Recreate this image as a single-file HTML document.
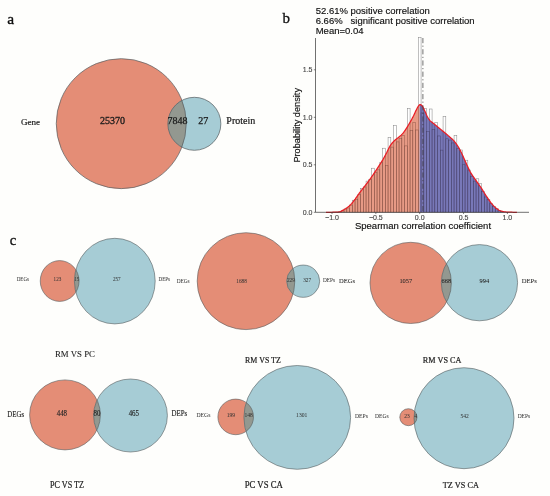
<!DOCTYPE html><html><head><meta charset="utf-8"><title>Figure</title><style>html,body{margin:0;padding:0;background:#fefefc;}svg{display:block}</style></head><body><svg width="550" height="496" viewBox="0 0 550 496">
<rect width="550" height="496" fill="#fefefc"/>
<text x="7.3" y="23.7" font-family='"Liberation Serif", serif' font-size="15.5" text-anchor="start" fill="#111" stroke="#111" stroke-width="0.3" >a</text>
<text x="282.4" y="23.2" font-family='"Liberation Serif", serif' font-size="15" text-anchor="start" fill="#111" stroke="#111" stroke-width="0.3" >b</text>
<text x="9.7" y="245.1" font-family='"Liberation Serif", serif' font-size="14.5" text-anchor="start" fill="#111" stroke="#111" stroke-width="0.32" >c</text>
<clipPath id="cp1"><ellipse cx="121.25" cy="123.65" rx="65" ry="65"/></clipPath><ellipse cx="121.25" cy="123.65" rx="65" ry="65" fill="#e48d76"/><ellipse cx="194.35" cy="123.8" rx="26.5" ry="26.5" fill="#a6ccd5"/><ellipse cx="194.35" cy="123.8" rx="26.5" ry="26.5" fill="#939890" clip-path="url(#cp1)"/><ellipse cx="121.25" cy="123.65" rx="65" ry="65" fill="none" stroke="#555c5e" stroke-width="0.7"/><ellipse cx="194.35" cy="123.8" rx="26.5" ry="26.5" fill="none" stroke="#555c5e" stroke-width="0.7"/>
<text x="30.5" y="125.1" font-family='"Liberation Serif", serif' font-size="9.1" text-anchor="middle" fill="#1a1a1a" stroke="#1a1a1a" stroke-width="0.18" >Gene</text>
<text x="112.5" y="124.3" font-family='"Liberation Serif", serif' font-size="10" text-anchor="middle" fill="#1a1a1a" stroke="#1a1a1a" stroke-width="0.3" >25370</text>
<text x="177.4" y="124.3" font-family='"Liberation Serif", serif' font-size="10" text-anchor="middle" fill="#1a1a1a" stroke="#1a1a1a" stroke-width="0.25" >7848</text>
<text x="203.3" y="124.3" font-family='"Liberation Serif", serif' font-size="10" text-anchor="middle" fill="#1a1a1a" stroke="#1a1a1a" stroke-width="0.25" >27</text>
<text x="240.8" y="124.3" font-family='"Liberation Serif", serif' font-size="10" text-anchor="middle" fill="#1a1a1a" stroke="#1a1a1a" stroke-width="0.22" >Protein</text>
<clipPath id="cp2"><ellipse cx="59.65" cy="281.0" rx="19.4" ry="20.4"/></clipPath><ellipse cx="59.65" cy="281.0" rx="19.4" ry="20.4" fill="#e48d76"/><ellipse cx="114.8" cy="281.1" rx="40.4" ry="42.8" fill="#a6ccd5"/><ellipse cx="114.8" cy="281.1" rx="40.4" ry="42.8" fill="#939890" clip-path="url(#cp2)"/><ellipse cx="59.65" cy="281.0" rx="19.4" ry="20.4" fill="none" stroke="#555c5e" stroke-width="0.6"/><ellipse cx="114.8" cy="281.1" rx="40.4" ry="42.8" fill="none" stroke="#555c5e" stroke-width="0.6"/>
<clipPath id="cp3"><ellipse cx="246" cy="281.15" rx="48.8" ry="48.45"/></clipPath><ellipse cx="246" cy="281.15" rx="48.8" ry="48.45" fill="#e48d76"/><ellipse cx="303.2" cy="281.2" rx="16.5" ry="16.15" fill="#a6ccd5"/><ellipse cx="303.2" cy="281.2" rx="16.5" ry="16.15" fill="#939890" clip-path="url(#cp3)"/><ellipse cx="246" cy="281.15" rx="48.8" ry="48.45" fill="none" stroke="#555c5e" stroke-width="0.6"/><ellipse cx="303.2" cy="281.2" rx="16.5" ry="16.15" fill="none" stroke="#555c5e" stroke-width="0.6"/>
<clipPath id="cp4"><ellipse cx="410.7" cy="282.9" rx="40.7" ry="40.6"/></clipPath><ellipse cx="410.7" cy="282.9" rx="40.7" ry="40.6" fill="#e48d76"/><ellipse cx="479.45" cy="282.7" rx="38.15" ry="38.1" fill="#a6ccd5"/><ellipse cx="479.45" cy="282.7" rx="38.15" ry="38.1" fill="#939890" clip-path="url(#cp4)"/><ellipse cx="410.7" cy="282.9" rx="40.7" ry="40.6" fill="none" stroke="#555c5e" stroke-width="0.6"/><ellipse cx="479.45" cy="282.7" rx="38.15" ry="38.1" fill="none" stroke="#555c5e" stroke-width="0.6"/>
<clipPath id="cp5"><ellipse cx="65" cy="414.9" rx="35.4" ry="35"/></clipPath><ellipse cx="65" cy="414.9" rx="35.4" ry="35" fill="#e48d76"/><ellipse cx="130.5" cy="415.5" rx="36.9" ry="36.5" fill="#a6ccd5"/><ellipse cx="130.5" cy="415.5" rx="36.9" ry="36.5" fill="#939890" clip-path="url(#cp5)"/><ellipse cx="65" cy="414.9" rx="35.4" ry="35" fill="none" stroke="#555c5e" stroke-width="0.6"/><ellipse cx="130.5" cy="415.5" rx="36.9" ry="36.5" fill="none" stroke="#555c5e" stroke-width="0.6"/>
<clipPath id="cp6"><ellipse cx="235.7" cy="416.9" rx="17.8" ry="17.8"/></clipPath><ellipse cx="235.7" cy="416.9" rx="17.8" ry="17.8" fill="#e48d76"/><ellipse cx="297.25" cy="417.4" rx="53.35" ry="51.9" fill="#a6ccd5"/><ellipse cx="297.25" cy="417.4" rx="53.35" ry="51.9" fill="#939890" clip-path="url(#cp6)"/><ellipse cx="235.7" cy="416.9" rx="17.8" ry="17.8" fill="none" stroke="#555c5e" stroke-width="0.6"/><ellipse cx="297.25" cy="417.4" rx="53.35" ry="51.9" fill="none" stroke="#555c5e" stroke-width="0.6"/>
<clipPath id="cp7"><ellipse cx="408.4" cy="417.2" rx="8.6" ry="8.5"/></clipPath><ellipse cx="408.4" cy="417.2" rx="8.6" ry="8.5" fill="#e48d76"/><ellipse cx="464" cy="418.2" rx="50" ry="50.5" fill="#a6ccd5"/><ellipse cx="464" cy="418.2" rx="50" ry="50.5" fill="#939890" clip-path="url(#cp7)"/><ellipse cx="408.4" cy="417.2" rx="8.6" ry="8.5" fill="none" stroke="#555c5e" stroke-width="0.6"/><ellipse cx="464" cy="418.2" rx="50" ry="50.5" fill="none" stroke="#555c5e" stroke-width="0.6"/>
<text transform="translate(22.85,281.3) scale(0.952,1)" font-family='"Liberation Serif", serif' font-size="5.35" text-anchor="middle" fill="#333" stroke="#333" stroke-width="0.02">DEGs</text>
<text transform="translate(57.4,281.4) scale(0.952,1)" font-family='"Liberation Serif", serif' font-size="5.35" text-anchor="middle" fill="#333" stroke="#333" stroke-width="0.02">123</text>
<text transform="translate(76.8,281.4) scale(0.952,1)" font-family='"Liberation Serif", serif' font-size="5.35" text-anchor="middle" fill="#333" stroke="#333" stroke-width="0.02">15</text>
<text transform="translate(116.7,281.4) scale(0.952,1)" font-family='"Liberation Serif", serif' font-size="5.35" text-anchor="middle" fill="#333" stroke="#333" stroke-width="0.02">257</text>
<text transform="translate(164.25,281.4) scale(0.952,1)" font-family='"Liberation Serif", serif' font-size="5.35" text-anchor="middle" fill="#333" stroke="#333" stroke-width="0.02">DEPs</text>
<text transform="translate(74.95,356.8) scale(1.0,1)" font-family='"Liberation Serif", serif' font-size="8.8" text-anchor="middle" fill="#222" stroke="#222" stroke-width="0.08">RM VS PC</text>
<text transform="translate(183.1,283) scale(0.952,1)" font-family='"Liberation Serif", serif' font-size="5.57" text-anchor="middle" fill="#333" stroke="#333" stroke-width="0.02">DEGs</text>
<text transform="translate(241.6,282.6) scale(0.952,1)" font-family='"Liberation Serif", serif' font-size="5.57" text-anchor="middle" fill="#333" stroke="#333" stroke-width="0.02">1688</text>
<text transform="translate(290.9,281.8) scale(0.952,1)" font-family='"Liberation Serif", serif' font-size="5.57" text-anchor="middle" fill="#333" stroke="#333" stroke-width="0.02">229</text>
<text transform="translate(307.1,281.8) scale(0.952,1)" font-family='"Liberation Serif", serif' font-size="5.57" text-anchor="middle" fill="#333" stroke="#333" stroke-width="0.02">327</text>
<text transform="translate(329,281.5) scale(0.952,1)" font-family='"Liberation Serif", serif' font-size="5.57" text-anchor="middle" fill="#333" stroke="#333" stroke-width="0.02">DEPs</text>
<text transform="translate(262.9,363.45) scale(0.86,1)" font-family='"Liberation Serif", serif' font-size="9.2" text-anchor="middle" fill="#1a1a1a" stroke="#1a1a1a" stroke-width="0.2">RM VS TZ</text>
<text transform="translate(347,283.4) scale(0.952,1)" font-family='"Liberation Serif", serif' font-size="6.83" text-anchor="middle" fill="#262626" stroke="#262626" stroke-width="0.05">DEGs</text>
<text transform="translate(405.8,283.4) scale(0.952,1)" font-family='"Liberation Serif", serif' font-size="6.72" text-anchor="middle" fill="#262626" stroke="#262626" stroke-width="0.05">1057</text>
<text transform="translate(446.3,283.2) scale(0.952,1)" font-family='"Liberation Serif", serif' font-size="6.72" text-anchor="middle" fill="#262626" stroke="#262626" stroke-width="0.05">668</text>
<text transform="translate(484.3,283.4) scale(0.952,1)" font-family='"Liberation Serif", serif' font-size="6.72" text-anchor="middle" fill="#262626" stroke="#262626" stroke-width="0.05">994</text>
<text transform="translate(529.25,283.4) scale(0.952,1)" font-family='"Liberation Serif", serif' font-size="6.93" text-anchor="middle" fill="#262626" stroke="#262626" stroke-width="0.05">DEPs</text>
<text transform="translate(442.1,363.1) scale(0.945,1)" font-family='"Liberation Serif", serif' font-size="8.7" text-anchor="middle" fill="#1a1a1a" stroke="#1a1a1a" stroke-width="0.2">RM VS CA</text>
<text transform="translate(15.7,416.5) scale(0.952,1)" font-family='"Liberation Serif", serif' font-size="7.25" text-anchor="middle" fill="#262626" stroke="#262626" stroke-width="0.14">DEGs</text>
<text transform="translate(61.9,416.1) scale(0.952,1)" font-family='"Liberation Serif", serif' font-size="7.25" text-anchor="middle" fill="#262626" stroke="#262626" stroke-width="0.14">448</text>
<text transform="translate(97,416.1) scale(0.952,1)" font-family='"Liberation Serif", serif' font-size="7.25" text-anchor="middle" fill="#262626" stroke="#262626" stroke-width="0.14">80</text>
<text transform="translate(133.8,416.0) scale(0.952,1)" font-family='"Liberation Serif", serif' font-size="7.25" text-anchor="middle" fill="#262626" stroke="#262626" stroke-width="0.14">465</text>
<text transform="translate(179.3,416.0) scale(0.952,1)" font-family='"Liberation Serif", serif' font-size="7.25" text-anchor="middle" fill="#262626" stroke="#262626" stroke-width="0.14">DEPs</text>
<text transform="translate(67,488.0) scale(0.853,1)" font-family='"Liberation Serif", serif' font-size="9.5" text-anchor="middle" fill="#1a1a1a" stroke="#1a1a1a" stroke-width="0.2">PC VS TZ</text>
<text transform="translate(203.4,416.8) scale(0.952,1)" font-family='"Liberation Serif", serif' font-size="5.99" text-anchor="middle" fill="#333" stroke="#333" stroke-width="0.02">DEGs</text>
<text transform="translate(230.9,417.2) scale(0.952,1)" font-family='"Liberation Serif", serif' font-size="5.88" text-anchor="middle" fill="#333" stroke="#333" stroke-width="0.02">199</text>
<text transform="translate(248.6,417.2) scale(0.952,1)" font-family='"Liberation Serif", serif' font-size="5.88" text-anchor="middle" fill="#333" stroke="#333" stroke-width="0.02">148</text>
<text transform="translate(301.7,417.4) scale(0.952,1)" font-family='"Liberation Serif", serif' font-size="5.88" text-anchor="middle" fill="#333" stroke="#333" stroke-width="0.02">1301</text>
<text transform="translate(361.45,417.8) scale(0.952,1)" font-family='"Liberation Serif", serif' font-size="5.99" text-anchor="middle" fill="#333" stroke="#333" stroke-width="0.02">DEPs</text>
<text transform="translate(263.75,487.9) scale(0.92,1)" font-family='"Liberation Serif", serif' font-size="9.5" text-anchor="middle" fill="#1a1a1a" stroke="#1a1a1a" stroke-width="0.2">PC VS CA</text>
<text transform="translate(381.85,417.8) scale(0.952,1)" font-family='"Liberation Serif", serif' font-size="5.88" text-anchor="middle" fill="#333" stroke="#333" stroke-width="0.02">DEGs</text>
<text transform="translate(407.1,417.9) scale(0.952,1)" font-family='"Liberation Serif", serif' font-size="5.78" text-anchor="middle" fill="#333" stroke="#333" stroke-width="0.02">23</text>
<text transform="translate(415.6,417.9) scale(0.952,1)" font-family='"Liberation Serif", serif' font-size="5.78" text-anchor="middle" fill="#333" stroke="#333" stroke-width="0.02">4</text>
<text transform="translate(464.7,417.9) scale(0.952,1)" font-family='"Liberation Serif", serif' font-size="5.78" text-anchor="middle" fill="#333" stroke="#333" stroke-width="0.02">542</text>
<text transform="translate(523.9,418.0) scale(0.952,1)" font-family='"Liberation Serif", serif' font-size="5.78" text-anchor="middle" fill="#333" stroke="#333" stroke-width="0.02">DEPs</text>
<text transform="translate(460.8,487.65) scale(0.9,1)" font-family='"Liberation Serif", serif' font-size="9.2" text-anchor="middle" fill="#1a1a1a" stroke="#1a1a1a" stroke-width="0.2">TZ VS CA</text>
<g fill="#ffffff" stroke="#808080" stroke-width="0.5"><rect x="333.07" y="212.21" width="2.75" height="0.09"/><rect x="335.82" y="212.11" width="2.75" height="0.19"/><rect x="338.57" y="211.76" width="2.75" height="0.54"/><rect x="341.32" y="210.83" width="2.75" height="1.47"/><rect x="344.07" y="208.84" width="2.75" height="3.46"/><rect x="346.82" y="208.01" width="2.75" height="4.29"/><rect x="349.57" y="205.15" width="2.75" height="7.15"/><rect x="352.32" y="200.20" width="2.75" height="12.10"/><rect x="355.07" y="199.31" width="2.75" height="12.99"/><rect x="357.82" y="194.33" width="2.75" height="17.97"/><rect x="360.57" y="188.40" width="2.75" height="23.90"/><rect x="363.32" y="186.95" width="2.75" height="25.35"/><rect x="366.07" y="181.10" width="2.75" height="31.20"/><rect x="368.82" y="179.39" width="2.75" height="32.91"/><rect x="371.57" y="168.20" width="2.75" height="44.10"/><rect x="374.32" y="172.30" width="2.75" height="40.00"/><rect x="377.07" y="169.84" width="2.75" height="42.46"/><rect x="379.82" y="162.72" width="2.75" height="49.58"/><rect x="382.57" y="148.20" width="2.75" height="64.10"/><rect x="385.32" y="165.69" width="2.75" height="46.61"/><rect x="388.07" y="137.50" width="2.75" height="74.80"/><rect x="390.82" y="147.12" width="2.75" height="65.18"/><rect x="393.57" y="125.50" width="2.75" height="86.80"/><rect x="396.32" y="141.91" width="2.75" height="70.39"/><rect x="399.07" y="138.66" width="2.75" height="73.64"/><rect x="401.82" y="135.68" width="2.75" height="76.62"/><rect x="404.57" y="145.90" width="2.75" height="66.40"/><rect x="407.32" y="108.40" width="2.75" height="103.90"/><rect x="410.07" y="130.50" width="2.75" height="81.80"/><rect x="412.82" y="122.40" width="2.75" height="89.90"/><rect x="415.57" y="130.00" width="2.75" height="82.30"/><rect x="418.32" y="37.30" width="2.75" height="175.00"/><rect x="421.07" y="112.91" width="2.75" height="99.39"/><rect x="423.82" y="108.50" width="2.75" height="103.80"/><rect x="426.57" y="131.43" width="2.75" height="80.87"/><rect x="429.32" y="109.00" width="2.75" height="103.30"/><rect x="432.07" y="129.35" width="2.75" height="82.95"/><rect x="434.82" y="122.70" width="2.75" height="89.60"/><rect x="437.57" y="135.96" width="2.75" height="76.34"/><rect x="440.32" y="150.13" width="2.75" height="62.17"/><rect x="443.07" y="116.70" width="2.75" height="95.60"/><rect x="445.82" y="138.81" width="2.75" height="73.49"/><rect x="448.57" y="140.06" width="2.75" height="72.24"/><rect x="451.32" y="142.93" width="2.75" height="69.37"/><rect x="454.07" y="135.50" width="2.75" height="76.80"/><rect x="456.82" y="148.67" width="2.75" height="63.63"/><rect x="459.57" y="150.00" width="2.75" height="62.30"/><rect x="462.32" y="164.76" width="2.75" height="47.54"/><rect x="465.07" y="160.20" width="2.75" height="52.10"/><rect x="467.82" y="170.04" width="2.75" height="42.26"/><rect x="470.57" y="176.36" width="2.75" height="35.94"/><rect x="473.32" y="181.11" width="2.75" height="31.19"/><rect x="476.07" y="178.80" width="2.75" height="33.50"/><rect x="478.82" y="183.30" width="2.75" height="29.00"/><rect x="481.57" y="191.71" width="2.75" height="20.59"/><rect x="484.32" y="196.94" width="2.75" height="15.36"/><rect x="487.07" y="199.39" width="2.75" height="12.91"/><rect x="489.82" y="203.38" width="2.75" height="8.92"/><rect x="492.57" y="206.29" width="2.75" height="6.01"/><rect x="495.32" y="208.60" width="2.75" height="3.70"/><rect x="498.07" y="210.46" width="2.75" height="1.84"/><rect x="500.82" y="211.56" width="2.75" height="0.74"/></g>
<path d="M326.00,212.30 L326.48,212.30 L326.96,212.30 L327.44,212.30 L327.91,212.29 L328.39,212.29 L328.87,212.29 L329.35,212.28 L329.83,212.28 L330.31,212.27 L330.78,212.27 L331.26,212.26 L331.74,212.25 L332.22,212.25 L332.70,212.24 L333.18,212.23 L333.66,212.22 L334.13,212.21 L334.61,212.20 L335.09,212.18 L335.57,212.16 L336.05,212.14 L336.53,212.12 L337.00,212.10 L337.48,212.07 L337.96,212.04 L338.44,212.01 L338.92,211.97 L339.40,211.88 L339.87,211.74 L340.35,211.58 L340.83,211.37 L341.31,211.15 L341.79,210.90 L342.27,210.64 L342.75,210.37 L343.22,210.10 L343.70,209.82 L344.18,209.56 L344.66,209.28 L345.14,208.99 L345.62,208.68 L346.09,208.36 L346.57,208.02 L347.05,207.67 L347.53,207.30 L348.01,206.92 L348.49,206.52 L348.97,206.11 L349.44,205.69 L349.92,205.26 L350.40,204.81 L350.88,204.34 L351.36,203.83 L351.84,203.31 L352.31,202.75 L352.79,202.18 L353.27,201.58 L353.75,200.97 L354.23,200.34 L354.71,199.70 L355.19,199.05 L355.66,198.38 L356.14,197.71 L356.62,197.03 L357.10,196.35 L357.58,195.67 L358.06,194.99 L358.53,194.31 L359.01,193.63 L359.49,192.97 L359.97,192.31 L360.45,191.66 L360.93,191.03 L361.41,190.40 L361.88,189.79 L362.36,189.17 L362.84,188.56 L363.32,187.96 L363.80,187.35 L364.28,186.74 L364.75,186.13 L365.23,185.52 L365.71,184.91 L366.19,184.30 L366.67,183.68 L367.15,183.05 L367.62,182.42 L368.10,181.79 L368.58,181.14 L369.06,180.49 L369.54,179.83 L370.02,179.16 L370.50,178.49 L370.97,177.81 L371.45,177.12 L371.93,176.43 L372.41,175.73 L372.89,175.03 L373.37,174.32 L373.84,173.61 L374.32,172.90 L374.80,172.18 L375.28,171.46 L375.76,170.74 L376.24,170.01 L376.72,169.29 L377.19,168.56 L377.67,167.84 L378.15,167.12 L378.63,166.39 L379.11,165.67 L379.59,164.94 L380.06,164.21 L380.54,163.47 L381.02,162.71 L381.50,161.95 L381.98,161.17 L382.46,160.37 L382.94,159.56 L383.41,158.72 L383.89,157.86 L384.37,156.98 L384.85,156.10 L385.33,155.20 L385.81,154.30 L386.28,153.40 L386.76,152.50 L387.24,151.55 L387.72,150.56 L388.20,149.57 L388.68,148.58 L389.15,147.63 L389.63,146.73 L390.11,145.90 L390.59,145.17 L391.07,144.50 L391.55,143.86 L392.03,143.26 L392.50,142.69 L392.98,142.15 L393.46,141.64 L393.94,141.15 L394.42,140.67 L394.90,140.23 L395.37,139.81 L395.85,139.42 L396.33,139.06 L396.81,138.70 L397.29,138.34 L397.77,137.98 L398.25,137.60 L398.72,137.19 L399.20,136.79 L399.68,136.38 L400.16,135.96 L400.64,135.54 L401.12,135.10 L401.59,134.64 L402.07,134.16 L402.55,133.65 L403.03,133.10 L403.51,132.50 L403.99,131.87 L404.47,131.20 L404.94,130.52 L405.42,129.82 L405.90,129.11 L406.38,128.38 L406.86,127.63 L407.34,126.87 L407.81,126.09 L408.29,125.29 L408.77,124.49 L409.25,123.67 L409.73,122.85 L410.21,122.01 L410.68,121.17 L411.16,120.32 L411.64,119.45 L412.12,118.56 L412.60,117.66 L413.08,116.73 L413.56,115.79 L414.03,114.81 L414.51,113.75 L414.99,112.67 L415.47,111.61 L415.95,110.60 L416.43,109.66 L416.90,108.72 L417.38,107.80 L417.86,106.96 L418.34,106.23 L418.82,105.63 L419.30,105.04 L419.70,104.65 L419.7,212.3 L326.00,212.3 Z" fill="#e07a5f" fill-opacity="0.76"/>
<path d="M419.70,104.65 L419.78,104.60 L420.25,104.51 L420.73,104.69 L421.21,105.03 L421.69,105.48 L422.17,105.97 L422.65,106.58 L423.12,107.41 L423.60,108.38 L424.08,109.41 L424.56,110.42 L425.04,111.42 L425.52,112.49 L426.00,113.60 L426.47,114.70 L426.95,115.74 L427.43,116.69 L427.91,117.54 L428.39,118.33 L428.87,119.08 L429.34,119.75 L429.82,120.33 L430.30,120.83 L430.78,121.29 L431.26,121.72 L431.74,122.12 L432.22,122.49 L432.69,122.86 L433.17,123.21 L433.65,123.57 L434.13,123.94 L434.61,124.32 L435.09,124.72 L435.56,125.12 L436.04,125.52 L436.52,125.92 L437.00,126.32 L437.48,126.72 L437.96,127.12 L438.43,127.52 L438.91,127.92 L439.39,128.31 L439.87,128.70 L440.35,129.10 L440.83,129.48 L441.31,129.87 L441.78,130.26 L442.26,130.65 L442.74,131.04 L443.22,131.43 L443.70,131.82 L444.18,132.21 L444.65,132.61 L445.13,133.01 L445.61,133.42 L446.09,133.82 L446.57,134.23 L447.05,134.63 L447.53,135.04 L448.00,135.46 L448.48,135.87 L448.96,136.29 L449.44,136.71 L449.92,137.12 L450.40,137.53 L450.87,137.93 L451.35,138.35 L451.83,138.77 L452.31,139.20 L452.79,139.66 L453.27,140.15 L453.75,140.66 L454.22,141.20 L454.70,141.78 L455.18,142.38 L455.66,143.01 L456.14,143.67 L456.62,144.35 L457.09,145.05 L457.57,145.78 L458.05,146.52 L458.53,147.30 L459.01,148.13 L459.49,149.00 L459.96,149.90 L460.44,150.84 L460.92,151.79 L461.40,152.76 L461.88,153.74 L462.36,154.74 L462.84,155.77 L463.31,156.84 L463.79,157.93 L464.27,159.04 L464.75,160.15 L465.23,161.25 L465.71,162.33 L466.18,163.38 L466.66,164.43 L467.14,165.49 L467.62,166.55 L468.10,167.60 L468.58,168.62 L469.06,169.61 L469.53,170.56 L470.01,171.46 L470.49,172.31 L470.97,173.11 L471.45,173.88 L471.93,174.62 L472.40,175.34 L472.88,176.05 L473.36,176.74 L473.84,177.42 L474.32,178.10 L474.80,178.78 L475.28,179.47 L475.75,180.17 L476.23,180.86 L476.71,181.54 L477.19,182.21 L477.67,182.88 L478.15,183.55 L478.62,184.22 L479.10,184.89 L479.58,185.57 L480.06,186.26 L480.54,186.96 L481.02,187.68 L481.49,188.41 L481.97,189.16 L482.45,189.92 L482.93,190.69 L483.41,191.47 L483.89,192.24 L484.37,193.02 L484.84,193.79 L485.32,194.55 L485.80,195.29 L486.28,196.02 L486.76,196.73 L487.24,197.45 L487.71,198.17 L488.19,198.89 L488.67,199.60 L489.15,200.29 L489.63,200.98 L490.11,201.64 L490.59,202.29 L491.06,202.91 L491.54,203.50 L492.02,204.06 L492.50,204.60 L492.98,205.13 L493.46,205.65 L493.93,206.15 L494.41,206.63 L494.89,207.08 L495.37,207.52 L495.85,207.92 L496.33,208.30 L496.81,208.67 L497.28,209.03 L497.76,209.39 L498.24,209.72 L498.72,210.04 L499.20,210.32 L499.68,210.57 L500.15,210.78 L500.63,210.94 L501.11,211.08 L501.59,211.22 L502.07,211.35 L502.55,211.47 L503.03,211.58 L503.50,211.68 L503.98,211.77 L504.46,211.84 L504.94,211.91 L505.42,211.96 L505.90,211.99 L506.37,212.02 L506.85,212.04 L507.33,212.07 L507.81,212.09 L508.29,212.11 L508.77,212.13 L509.24,212.15 L509.72,212.17 L510.20,212.18 L510.68,212.20 L511.16,212.21 L511.64,212.23 L512.12,212.24 L512.59,212.25 L513.07,212.26 L513.55,212.27 L514.03,212.28 L514.51,212.28 L514.99,212.29 L515.46,212.29 L515.94,212.30 L516.42,212.30 L516.90,212.30 L516.90,212.3 L419.7,212.3 Z" fill="#5a5aa8" fill-opacity="0.82"/>
<clipPath id="area"><path d="M326.00,212.30 L326.48,212.30 L326.96,212.30 L327.44,212.30 L327.91,212.29 L328.39,212.29 L328.87,212.29 L329.35,212.28 L329.83,212.28 L330.31,212.27 L330.78,212.27 L331.26,212.26 L331.74,212.25 L332.22,212.25 L332.70,212.24 L333.18,212.23 L333.66,212.22 L334.13,212.21 L334.61,212.20 L335.09,212.18 L335.57,212.16 L336.05,212.14 L336.53,212.12 L337.00,212.10 L337.48,212.07 L337.96,212.04 L338.44,212.01 L338.92,211.97 L339.40,211.88 L339.87,211.74 L340.35,211.58 L340.83,211.37 L341.31,211.15 L341.79,210.90 L342.27,210.64 L342.75,210.37 L343.22,210.10 L343.70,209.82 L344.18,209.56 L344.66,209.28 L345.14,208.99 L345.62,208.68 L346.09,208.36 L346.57,208.02 L347.05,207.67 L347.53,207.30 L348.01,206.92 L348.49,206.52 L348.97,206.11 L349.44,205.69 L349.92,205.26 L350.40,204.81 L350.88,204.34 L351.36,203.83 L351.84,203.31 L352.31,202.75 L352.79,202.18 L353.27,201.58 L353.75,200.97 L354.23,200.34 L354.71,199.70 L355.19,199.05 L355.66,198.38 L356.14,197.71 L356.62,197.03 L357.10,196.35 L357.58,195.67 L358.06,194.99 L358.53,194.31 L359.01,193.63 L359.49,192.97 L359.97,192.31 L360.45,191.66 L360.93,191.03 L361.41,190.40 L361.88,189.79 L362.36,189.17 L362.84,188.56 L363.32,187.96 L363.80,187.35 L364.28,186.74 L364.75,186.13 L365.23,185.52 L365.71,184.91 L366.19,184.30 L366.67,183.68 L367.15,183.05 L367.62,182.42 L368.10,181.79 L368.58,181.14 L369.06,180.49 L369.54,179.83 L370.02,179.16 L370.50,178.49 L370.97,177.81 L371.45,177.12 L371.93,176.43 L372.41,175.73 L372.89,175.03 L373.37,174.32 L373.84,173.61 L374.32,172.90 L374.80,172.18 L375.28,171.46 L375.76,170.74 L376.24,170.01 L376.72,169.29 L377.19,168.56 L377.67,167.84 L378.15,167.12 L378.63,166.39 L379.11,165.67 L379.59,164.94 L380.06,164.21 L380.54,163.47 L381.02,162.71 L381.50,161.95 L381.98,161.17 L382.46,160.37 L382.94,159.56 L383.41,158.72 L383.89,157.86 L384.37,156.98 L384.85,156.10 L385.33,155.20 L385.81,154.30 L386.28,153.40 L386.76,152.50 L387.24,151.55 L387.72,150.56 L388.20,149.57 L388.68,148.58 L389.15,147.63 L389.63,146.73 L390.11,145.90 L390.59,145.17 L391.07,144.50 L391.55,143.86 L392.03,143.26 L392.50,142.69 L392.98,142.15 L393.46,141.64 L393.94,141.15 L394.42,140.67 L394.90,140.23 L395.37,139.81 L395.85,139.42 L396.33,139.06 L396.81,138.70 L397.29,138.34 L397.77,137.98 L398.25,137.60 L398.72,137.19 L399.20,136.79 L399.68,136.38 L400.16,135.96 L400.64,135.54 L401.12,135.10 L401.59,134.64 L402.07,134.16 L402.55,133.65 L403.03,133.10 L403.51,132.50 L403.99,131.87 L404.47,131.20 L404.94,130.52 L405.42,129.82 L405.90,129.11 L406.38,128.38 L406.86,127.63 L407.34,126.87 L407.81,126.09 L408.29,125.29 L408.77,124.49 L409.25,123.67 L409.73,122.85 L410.21,122.01 L410.68,121.17 L411.16,120.32 L411.64,119.45 L412.12,118.56 L412.60,117.66 L413.08,116.73 L413.56,115.79 L414.03,114.81 L414.51,113.75 L414.99,112.67 L415.47,111.61 L415.95,110.60 L416.43,109.66 L416.90,108.72 L417.38,107.80 L417.86,106.96 L418.34,106.23 L418.82,105.63 L419.30,105.04 L419.78,104.60 L420.25,104.51 L420.73,104.69 L421.21,105.03 L421.69,105.48 L422.17,105.97 L422.65,106.58 L423.12,107.41 L423.60,108.38 L424.08,109.41 L424.56,110.42 L425.04,111.42 L425.52,112.49 L426.00,113.60 L426.47,114.70 L426.95,115.74 L427.43,116.69 L427.91,117.54 L428.39,118.33 L428.87,119.08 L429.34,119.75 L429.82,120.33 L430.30,120.83 L430.78,121.29 L431.26,121.72 L431.74,122.12 L432.22,122.49 L432.69,122.86 L433.17,123.21 L433.65,123.57 L434.13,123.94 L434.61,124.32 L435.09,124.72 L435.56,125.12 L436.04,125.52 L436.52,125.92 L437.00,126.32 L437.48,126.72 L437.96,127.12 L438.43,127.52 L438.91,127.92 L439.39,128.31 L439.87,128.70 L440.35,129.10 L440.83,129.48 L441.31,129.87 L441.78,130.26 L442.26,130.65 L442.74,131.04 L443.22,131.43 L443.70,131.82 L444.18,132.21 L444.65,132.61 L445.13,133.01 L445.61,133.42 L446.09,133.82 L446.57,134.23 L447.05,134.63 L447.53,135.04 L448.00,135.46 L448.48,135.87 L448.96,136.29 L449.44,136.71 L449.92,137.12 L450.40,137.53 L450.87,137.93 L451.35,138.35 L451.83,138.77 L452.31,139.20 L452.79,139.66 L453.27,140.15 L453.75,140.66 L454.22,141.20 L454.70,141.78 L455.18,142.38 L455.66,143.01 L456.14,143.67 L456.62,144.35 L457.09,145.05 L457.57,145.78 L458.05,146.52 L458.53,147.30 L459.01,148.13 L459.49,149.00 L459.96,149.90 L460.44,150.84 L460.92,151.79 L461.40,152.76 L461.88,153.74 L462.36,154.74 L462.84,155.77 L463.31,156.84 L463.79,157.93 L464.27,159.04 L464.75,160.15 L465.23,161.25 L465.71,162.33 L466.18,163.38 L466.66,164.43 L467.14,165.49 L467.62,166.55 L468.10,167.60 L468.58,168.62 L469.06,169.61 L469.53,170.56 L470.01,171.46 L470.49,172.31 L470.97,173.11 L471.45,173.88 L471.93,174.62 L472.40,175.34 L472.88,176.05 L473.36,176.74 L473.84,177.42 L474.32,178.10 L474.80,178.78 L475.28,179.47 L475.75,180.17 L476.23,180.86 L476.71,181.54 L477.19,182.21 L477.67,182.88 L478.15,183.55 L478.62,184.22 L479.10,184.89 L479.58,185.57 L480.06,186.26 L480.54,186.96 L481.02,187.68 L481.49,188.41 L481.97,189.16 L482.45,189.92 L482.93,190.69 L483.41,191.47 L483.89,192.24 L484.37,193.02 L484.84,193.79 L485.32,194.55 L485.80,195.29 L486.28,196.02 L486.76,196.73 L487.24,197.45 L487.71,198.17 L488.19,198.89 L488.67,199.60 L489.15,200.29 L489.63,200.98 L490.11,201.64 L490.59,202.29 L491.06,202.91 L491.54,203.50 L492.02,204.06 L492.50,204.60 L492.98,205.13 L493.46,205.65 L493.93,206.15 L494.41,206.63 L494.89,207.08 L495.37,207.52 L495.85,207.92 L496.33,208.30 L496.81,208.67 L497.28,209.03 L497.76,209.39 L498.24,209.72 L498.72,210.04 L499.20,210.32 L499.68,210.57 L500.15,210.78 L500.63,210.94 L501.11,211.08 L501.59,211.22 L502.07,211.35 L502.55,211.47 L503.03,211.58 L503.50,211.68 L503.98,211.77 L504.46,211.84 L504.94,211.91 L505.42,211.96 L505.90,211.99 L506.37,212.02 L506.85,212.04 L507.33,212.07 L507.81,212.09 L508.29,212.11 L508.77,212.13 L509.24,212.15 L509.72,212.17 L510.20,212.18 L510.68,212.20 L511.16,212.21 L511.64,212.23 L512.12,212.24 L512.59,212.25 L513.07,212.26 L513.55,212.27 L514.03,212.28 L514.51,212.28 L514.99,212.29 L515.46,212.29 L515.94,212.30 L516.42,212.30 L516.90,212.30 Z"/></clipPath>
<g fill="none" stroke="#201010" stroke-opacity="0.27" stroke-width="0.55" clip-path="url(#area)"><rect x="333.07" y="212.21" width="2.75" height="0.09"/><rect x="335.82" y="212.11" width="2.75" height="0.19"/><rect x="338.57" y="211.76" width="2.75" height="0.54"/><rect x="341.32" y="210.83" width="2.75" height="1.47"/><rect x="344.07" y="208.84" width="2.75" height="3.46"/><rect x="346.82" y="208.01" width="2.75" height="4.29"/><rect x="349.57" y="205.15" width="2.75" height="7.15"/><rect x="352.32" y="200.20" width="2.75" height="12.10"/><rect x="355.07" y="199.31" width="2.75" height="12.99"/><rect x="357.82" y="194.33" width="2.75" height="17.97"/><rect x="360.57" y="188.40" width="2.75" height="23.90"/><rect x="363.32" y="186.95" width="2.75" height="25.35"/><rect x="366.07" y="181.10" width="2.75" height="31.20"/><rect x="368.82" y="179.39" width="2.75" height="32.91"/><rect x="371.57" y="168.20" width="2.75" height="44.10"/><rect x="374.32" y="172.30" width="2.75" height="40.00"/><rect x="377.07" y="169.84" width="2.75" height="42.46"/><rect x="379.82" y="162.72" width="2.75" height="49.58"/><rect x="382.57" y="148.20" width="2.75" height="64.10"/><rect x="385.32" y="165.69" width="2.75" height="46.61"/><rect x="388.07" y="137.50" width="2.75" height="74.80"/><rect x="390.82" y="147.12" width="2.75" height="65.18"/><rect x="393.57" y="125.50" width="2.75" height="86.80"/><rect x="396.32" y="141.91" width="2.75" height="70.39"/><rect x="399.07" y="138.66" width="2.75" height="73.64"/><rect x="401.82" y="135.68" width="2.75" height="76.62"/><rect x="404.57" y="145.90" width="2.75" height="66.40"/><rect x="407.32" y="108.40" width="2.75" height="103.90"/><rect x="410.07" y="130.50" width="2.75" height="81.80"/><rect x="412.82" y="122.40" width="2.75" height="89.90"/><rect x="415.57" y="130.00" width="2.75" height="82.30"/><rect x="418.32" y="37.30" width="2.75" height="175.00"/><rect x="421.07" y="112.91" width="2.75" height="99.39"/><rect x="423.82" y="108.50" width="2.75" height="103.80"/><rect x="426.57" y="131.43" width="2.75" height="80.87"/><rect x="429.32" y="109.00" width="2.75" height="103.30"/><rect x="432.07" y="129.35" width="2.75" height="82.95"/><rect x="434.82" y="122.70" width="2.75" height="89.60"/><rect x="437.57" y="135.96" width="2.75" height="76.34"/><rect x="440.32" y="150.13" width="2.75" height="62.17"/><rect x="443.07" y="116.70" width="2.75" height="95.60"/><rect x="445.82" y="138.81" width="2.75" height="73.49"/><rect x="448.57" y="140.06" width="2.75" height="72.24"/><rect x="451.32" y="142.93" width="2.75" height="69.37"/><rect x="454.07" y="135.50" width="2.75" height="76.80"/><rect x="456.82" y="148.67" width="2.75" height="63.63"/><rect x="459.57" y="150.00" width="2.75" height="62.30"/><rect x="462.32" y="164.76" width="2.75" height="47.54"/><rect x="465.07" y="160.20" width="2.75" height="52.10"/><rect x="467.82" y="170.04" width="2.75" height="42.26"/><rect x="470.57" y="176.36" width="2.75" height="35.94"/><rect x="473.32" y="181.11" width="2.75" height="31.19"/><rect x="476.07" y="178.80" width="2.75" height="33.50"/><rect x="478.82" y="183.30" width="2.75" height="29.00"/><rect x="481.57" y="191.71" width="2.75" height="20.59"/><rect x="484.32" y="196.94" width="2.75" height="15.36"/><rect x="487.07" y="199.39" width="2.75" height="12.91"/><rect x="489.82" y="203.38" width="2.75" height="8.92"/><rect x="492.57" y="206.29" width="2.75" height="6.01"/><rect x="495.32" y="208.60" width="2.75" height="3.70"/><rect x="498.07" y="210.46" width="2.75" height="1.84"/><rect x="500.82" y="211.56" width="2.75" height="0.74"/></g>
<path d="M326.00,212.30 L326.48,212.30 L326.96,212.30 L327.44,212.30 L327.91,212.29 L328.39,212.29 L328.87,212.29 L329.35,212.28 L329.83,212.28 L330.31,212.27 L330.78,212.27 L331.26,212.26 L331.74,212.25 L332.22,212.25 L332.70,212.24 L333.18,212.23 L333.66,212.22 L334.13,212.21 L334.61,212.20 L335.09,212.18 L335.57,212.16 L336.05,212.14 L336.53,212.12 L337.00,212.10 L337.48,212.07 L337.96,212.04 L338.44,212.01 L338.92,211.97 L339.40,211.88 L339.87,211.74 L340.35,211.58 L340.83,211.37 L341.31,211.15 L341.79,210.90 L342.27,210.64 L342.75,210.37 L343.22,210.10 L343.70,209.82 L344.18,209.56 L344.66,209.28 L345.14,208.99 L345.62,208.68 L346.09,208.36 L346.57,208.02 L347.05,207.67 L347.53,207.30 L348.01,206.92 L348.49,206.52 L348.97,206.11 L349.44,205.69 L349.92,205.26 L350.40,204.81 L350.88,204.34 L351.36,203.83 L351.84,203.31 L352.31,202.75 L352.79,202.18 L353.27,201.58 L353.75,200.97 L354.23,200.34 L354.71,199.70 L355.19,199.05 L355.66,198.38 L356.14,197.71 L356.62,197.03 L357.10,196.35 L357.58,195.67 L358.06,194.99 L358.53,194.31 L359.01,193.63 L359.49,192.97 L359.97,192.31 L360.45,191.66 L360.93,191.03 L361.41,190.40 L361.88,189.79 L362.36,189.17 L362.84,188.56 L363.32,187.96 L363.80,187.35 L364.28,186.74 L364.75,186.13 L365.23,185.52 L365.71,184.91 L366.19,184.30 L366.67,183.68 L367.15,183.05 L367.62,182.42 L368.10,181.79 L368.58,181.14 L369.06,180.49 L369.54,179.83 L370.02,179.16 L370.50,178.49 L370.97,177.81 L371.45,177.12 L371.93,176.43 L372.41,175.73 L372.89,175.03 L373.37,174.32 L373.84,173.61 L374.32,172.90 L374.80,172.18 L375.28,171.46 L375.76,170.74 L376.24,170.01 L376.72,169.29 L377.19,168.56 L377.67,167.84 L378.15,167.12 L378.63,166.39 L379.11,165.67 L379.59,164.94 L380.06,164.21 L380.54,163.47 L381.02,162.71 L381.50,161.95 L381.98,161.17 L382.46,160.37 L382.94,159.56 L383.41,158.72 L383.89,157.86 L384.37,156.98 L384.85,156.10 L385.33,155.20 L385.81,154.30 L386.28,153.40 L386.76,152.50 L387.24,151.55 L387.72,150.56 L388.20,149.57 L388.68,148.58 L389.15,147.63 L389.63,146.73 L390.11,145.90 L390.59,145.17 L391.07,144.50 L391.55,143.86 L392.03,143.26 L392.50,142.69 L392.98,142.15 L393.46,141.64 L393.94,141.15 L394.42,140.67 L394.90,140.23 L395.37,139.81 L395.85,139.42 L396.33,139.06 L396.81,138.70 L397.29,138.34 L397.77,137.98 L398.25,137.60 L398.72,137.19 L399.20,136.79 L399.68,136.38 L400.16,135.96 L400.64,135.54 L401.12,135.10 L401.59,134.64 L402.07,134.16 L402.55,133.65 L403.03,133.10 L403.51,132.50 L403.99,131.87 L404.47,131.20 L404.94,130.52 L405.42,129.82 L405.90,129.11 L406.38,128.38 L406.86,127.63 L407.34,126.87 L407.81,126.09 L408.29,125.29 L408.77,124.49 L409.25,123.67 L409.73,122.85 L410.21,122.01 L410.68,121.17 L411.16,120.32 L411.64,119.45 L412.12,118.56 L412.60,117.66 L413.08,116.73 L413.56,115.79 L414.03,114.81 L414.51,113.75 L414.99,112.67 L415.47,111.61 L415.95,110.60 L416.43,109.66 L416.90,108.72 L417.38,107.80 L417.86,106.96 L418.34,106.23 L418.82,105.63 L419.30,105.04 L419.78,104.60 L420.25,104.51 L420.73,104.69 L421.21,105.03 L421.69,105.48 L422.17,105.97 L422.65,106.58 L423.12,107.41 L423.60,108.38 L424.08,109.41 L424.56,110.42 L425.04,111.42 L425.52,112.49 L426.00,113.60 L426.47,114.70 L426.95,115.74 L427.43,116.69 L427.91,117.54 L428.39,118.33 L428.87,119.08 L429.34,119.75 L429.82,120.33 L430.30,120.83 L430.78,121.29 L431.26,121.72 L431.74,122.12 L432.22,122.49 L432.69,122.86 L433.17,123.21 L433.65,123.57 L434.13,123.94 L434.61,124.32 L435.09,124.72 L435.56,125.12 L436.04,125.52 L436.52,125.92 L437.00,126.32 L437.48,126.72 L437.96,127.12 L438.43,127.52 L438.91,127.92 L439.39,128.31 L439.87,128.70 L440.35,129.10 L440.83,129.48 L441.31,129.87 L441.78,130.26 L442.26,130.65 L442.74,131.04 L443.22,131.43 L443.70,131.82 L444.18,132.21 L444.65,132.61 L445.13,133.01 L445.61,133.42 L446.09,133.82 L446.57,134.23 L447.05,134.63 L447.53,135.04 L448.00,135.46 L448.48,135.87 L448.96,136.29 L449.44,136.71 L449.92,137.12 L450.40,137.53 L450.87,137.93 L451.35,138.35 L451.83,138.77 L452.31,139.20 L452.79,139.66 L453.27,140.15 L453.75,140.66 L454.22,141.20 L454.70,141.78 L455.18,142.38 L455.66,143.01 L456.14,143.67 L456.62,144.35 L457.09,145.05 L457.57,145.78 L458.05,146.52 L458.53,147.30 L459.01,148.13 L459.49,149.00 L459.96,149.90 L460.44,150.84 L460.92,151.79 L461.40,152.76 L461.88,153.74 L462.36,154.74 L462.84,155.77 L463.31,156.84 L463.79,157.93 L464.27,159.04 L464.75,160.15 L465.23,161.25 L465.71,162.33 L466.18,163.38 L466.66,164.43 L467.14,165.49 L467.62,166.55 L468.10,167.60 L468.58,168.62 L469.06,169.61 L469.53,170.56 L470.01,171.46 L470.49,172.31 L470.97,173.11 L471.45,173.88 L471.93,174.62 L472.40,175.34 L472.88,176.05 L473.36,176.74 L473.84,177.42 L474.32,178.10 L474.80,178.78 L475.28,179.47 L475.75,180.17 L476.23,180.86 L476.71,181.54 L477.19,182.21 L477.67,182.88 L478.15,183.55 L478.62,184.22 L479.10,184.89 L479.58,185.57 L480.06,186.26 L480.54,186.96 L481.02,187.68 L481.49,188.41 L481.97,189.16 L482.45,189.92 L482.93,190.69 L483.41,191.47 L483.89,192.24 L484.37,193.02 L484.84,193.79 L485.32,194.55 L485.80,195.29 L486.28,196.02 L486.76,196.73 L487.24,197.45 L487.71,198.17 L488.19,198.89 L488.67,199.60 L489.15,200.29 L489.63,200.98 L490.11,201.64 L490.59,202.29 L491.06,202.91 L491.54,203.50 L492.02,204.06 L492.50,204.60 L492.98,205.13 L493.46,205.65 L493.93,206.15 L494.41,206.63 L494.89,207.08 L495.37,207.52 L495.85,207.92 L496.33,208.30 L496.81,208.67 L497.28,209.03 L497.76,209.39 L498.24,209.72 L498.72,210.04 L499.20,210.32 L499.68,210.57 L500.15,210.78 L500.63,210.94 L501.11,211.08 L501.59,211.22 L502.07,211.35 L502.55,211.47 L503.03,211.58 L503.50,211.68 L503.98,211.77 L504.46,211.84 L504.94,211.91 L505.42,211.96 L505.90,211.99 L506.37,212.02 L506.85,212.04 L507.33,212.07 L507.81,212.09 L508.29,212.11 L508.77,212.13 L509.24,212.15 L509.72,212.17 L510.20,212.18 L510.68,212.20 L511.16,212.21 L511.64,212.23 L512.12,212.24 L512.59,212.25 L513.07,212.26 L513.55,212.27 L514.03,212.28 L514.51,212.28 L514.99,212.29 L515.46,212.29 L515.94,212.30 L516.42,212.30 L516.90,212.30" fill="none" stroke="#ea1c24" stroke-width="1.25" stroke-linejoin="round"/>
<line x1="422.9" y1="38" x2="422.9" y2="212.3" stroke="#3a3a3a" stroke-width="0.85" stroke-dasharray="5.2 2.4 1.2 2.4" stroke-opacity="0.85"/>
<path d="M315.5,38 V212.3 H529" fill="none" stroke="#333" stroke-width="0.7"/>
<line x1="313.8" x2="315.5" y1="212.3" y2="212.3" stroke="#333" stroke-width="0.6"/>
<text x="312.5" y="214.9" font-family='"Liberation Sans", sans-serif' font-size="7" text-anchor="end" fill="#444" stroke="#444" stroke-width="0.12" >0.0</text>
<line x1="313.8" x2="315.5" y1="164.8" y2="164.8" stroke="#333" stroke-width="0.6"/>
<text x="312.5" y="167.4" font-family='"Liberation Sans", sans-serif' font-size="7" text-anchor="end" fill="#444" stroke="#444" stroke-width="0.12" >0.5</text>
<line x1="313.8" x2="315.5" y1="117.30000000000001" y2="117.30000000000001" stroke="#333" stroke-width="0.6"/>
<text x="312.5" y="119.9" font-family='"Liberation Sans", sans-serif' font-size="7" text-anchor="end" fill="#444" stroke="#444" stroke-width="0.12" >1.0</text>
<line x1="313.8" x2="315.5" y1="69.80000000000001" y2="69.80000000000001" stroke="#333" stroke-width="0.6"/>
<text x="312.5" y="72.4" font-family='"Liberation Sans", sans-serif' font-size="7" text-anchor="end" fill="#444" stroke="#444" stroke-width="0.12" >1.5</text>
<line x1="332.0" x2="332.0" y1="212.3" y2="214.0" stroke="#333" stroke-width="0.6"/>
<text x="332.0" y="220.3" font-family='"Liberation Sans", sans-serif' font-size="7" text-anchor="middle" fill="#444" stroke="#444" stroke-width="0.12" >−1.0</text>
<line x1="375.84999999999997" x2="375.84999999999997" y1="212.3" y2="214.0" stroke="#333" stroke-width="0.6"/>
<text x="375.84999999999997" y="220.3" font-family='"Liberation Sans", sans-serif' font-size="7" text-anchor="middle" fill="#444" stroke="#444" stroke-width="0.12" >−0.5</text>
<line x1="419.7" x2="419.7" y1="212.3" y2="214.0" stroke="#333" stroke-width="0.6"/>
<text x="419.7" y="220.3" font-family='"Liberation Sans", sans-serif' font-size="7" text-anchor="middle" fill="#444" stroke="#444" stroke-width="0.12" >0.0</text>
<line x1="463.55" x2="463.55" y1="212.3" y2="214.0" stroke="#333" stroke-width="0.6"/>
<text x="463.55" y="220.3" font-family='"Liberation Sans", sans-serif' font-size="7" text-anchor="middle" fill="#444" stroke="#444" stroke-width="0.12" >0.5</text>
<line x1="507.4" x2="507.4" y1="212.3" y2="214.0" stroke="#333" stroke-width="0.6"/>
<text x="507.4" y="220.3" font-family='"Liberation Sans", sans-serif' font-size="7" text-anchor="middle" fill="#444" stroke="#444" stroke-width="0.12" >1.0</text>
<text x="423" y="228.7" font-family='"Liberation Sans", sans-serif' font-size="9.5" text-anchor="middle" fill="#111" stroke="#111" stroke-width="0.15" >Spearman correlation coefficient</text>
<text transform="translate(300.3,125.3) rotate(-90)" font-family='"Liberation Sans", sans-serif' font-size="9.2" text-anchor="middle" fill="#111" stroke="#111" stroke-width="0.15">Probability density</text>
<text x="315.7" y="14.0" font-family='"Liberation Sans", sans-serif' font-size="9.5" text-anchor="start" fill="#111" stroke="#111" stroke-width="0.15" >52.61% positive correlation</text>
<text x="315.7" y="23.9" font-family='"Liberation Sans", sans-serif' font-size="9.5" text-anchor="start" fill="#111" stroke="#111" stroke-width="0.15" xml:space="preserve">6.66%   significant positive correlation</text>
<text x="315.7" y="33.7" font-family='"Liberation Sans", sans-serif' font-size="9.5" text-anchor="start" fill="#111" stroke="#111" stroke-width="0.15" >Mean=0.04</text>
</svg></body></html>
